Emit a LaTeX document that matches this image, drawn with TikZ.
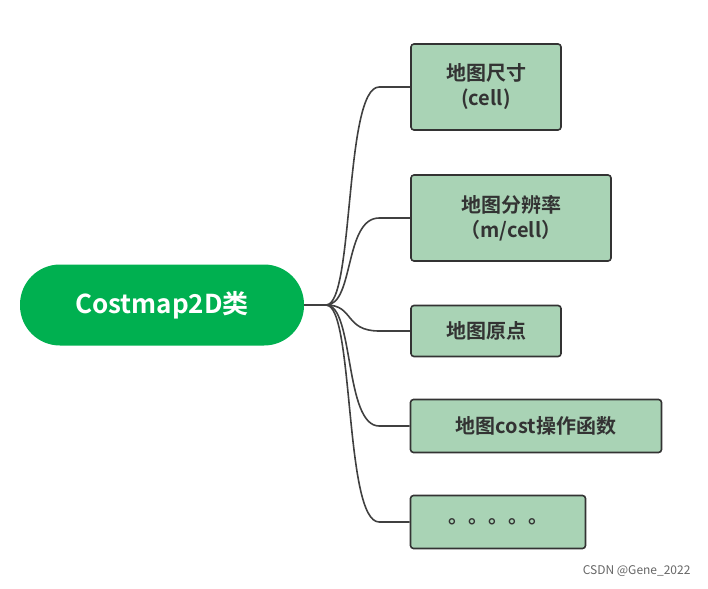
\documentclass[tikz,border=0pt]{standalone}
\usepackage{fontspec}
\usetikzlibrary{calc}
\setmainfont{Noto Sans CJK SC}[BoldFont={Noto Sans CJK SC Bold}]
\begin{document}
\begin{tikzpicture}[x=1pt,y=-1pt,
  leaf/.style={draw=black!80,line width=1.6pt,fill={rgb,255:red,169;green,211;blue,181},rounded corners=3pt,align=center,font=\bfseries\fontsize{20}{25}\selectfont,text=black!80,inner sep=0pt},
  link/.style={draw=black!75,line width=1.6pt}]
\useasboundingbox (0,0) rectangle (708,588);
\node[fill={rgb,255:red,0;green,176;blue,80},rounded corners=40pt,minimum width=284pt,minimum height=81pt,text=white,font=\bfseries\fontsize{26}{30}\selectfont] (root) at (162,305) {Costmap2D类};
\node[leaf,minimum width=150pt,minimum height=86pt] (a) at (486,87) {地图尺寸\\(cell)};
\node[leaf,minimum width=200pt,minimum height=86pt] (b) at (511,218) {地图分辨率\\（m/cell）};
\node[leaf,minimum width=150pt,minimum height=51pt] (c) at (486,331) {地图原点};
\node[leaf,minimum width=251pt,minimum height=53pt] (d) at (536,426) {地图cost操作函数};
\node[leaf,minimum width=175pt,minimum height=53pt] (e) at (498,522) {。。。。。};
\coordinate (s) at (root.east);
\foreach \n in {a,b,c,d,e}{
  \draw[link] (s) -- ++(22,0) .. controls ($(s)+(50,0)$) and ($(s |- \n.west)+(40,0)$) .. ($(s |- \n.west)+(75,0)$) -- (\n.west);
}
\node[text=black!60,font=\fontsize{12}{14}\selectfont,anchor=east] (w) at (694,571) {CSDN @Gene\_2022};
\end{tikzpicture}
\end{document}
